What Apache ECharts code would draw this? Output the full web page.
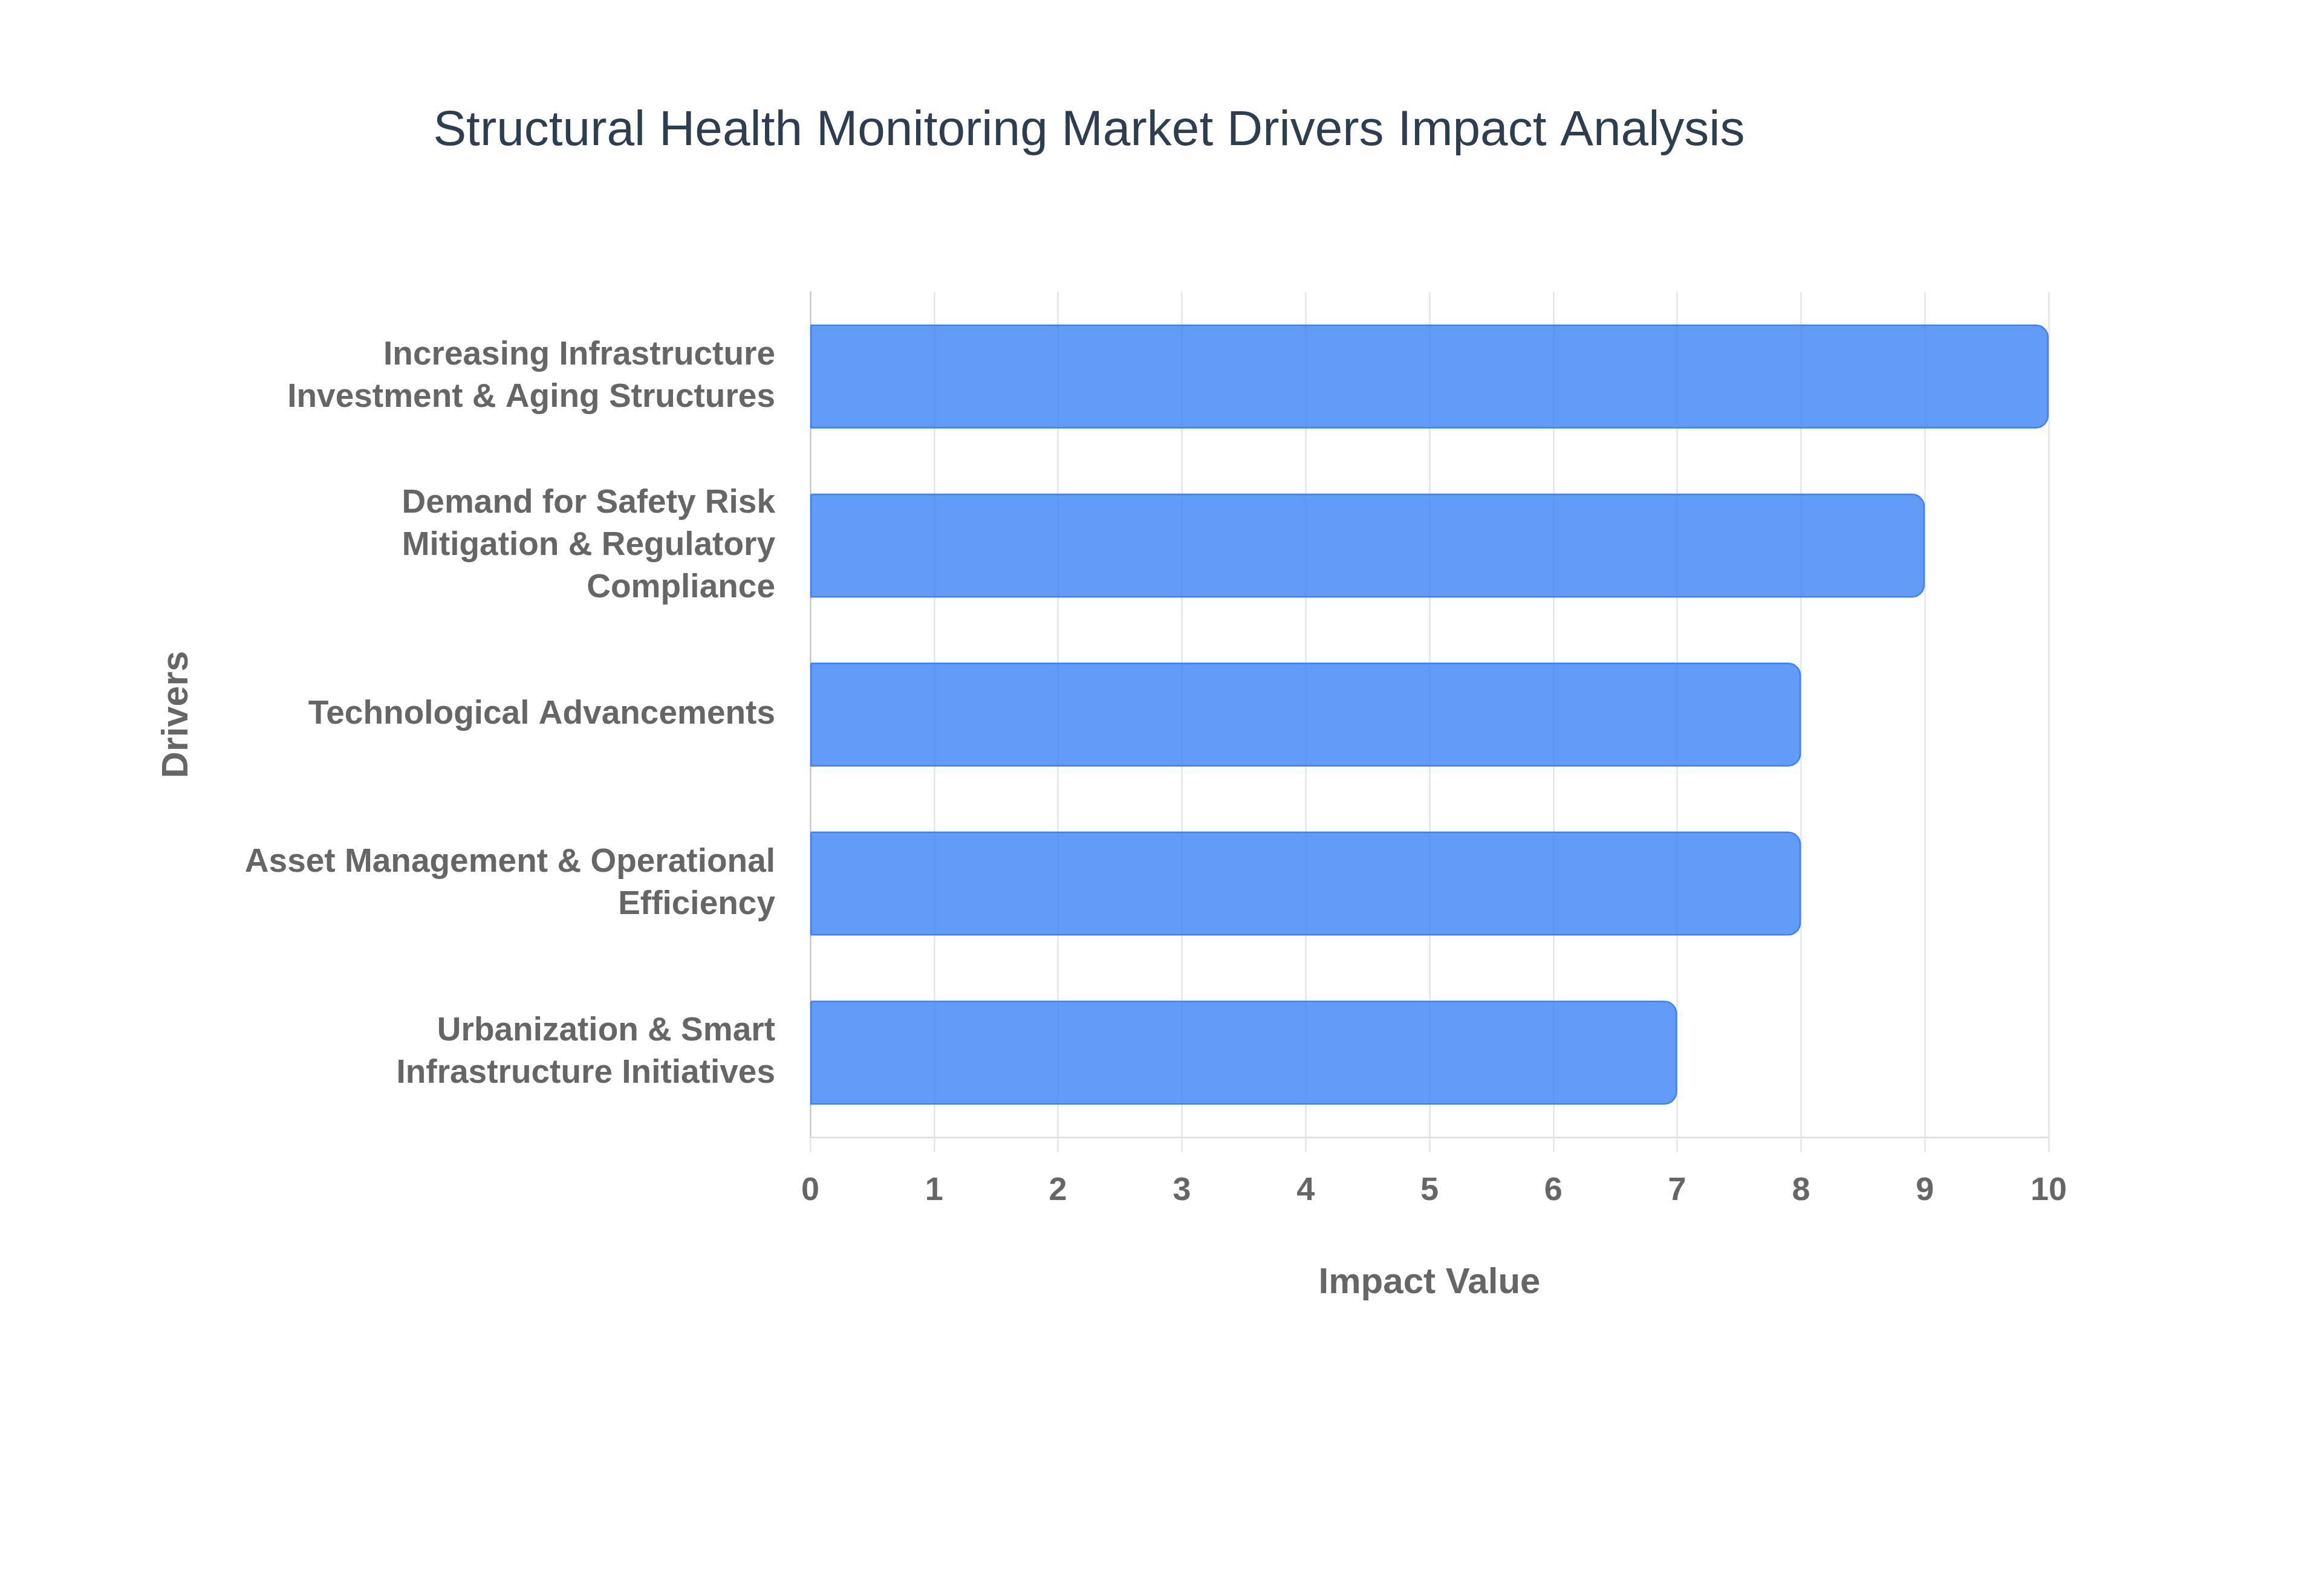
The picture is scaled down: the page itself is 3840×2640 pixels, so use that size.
<!DOCTYPE html>
<html>
<head>
<meta charset="utf-8">
<script src="https://cdn.jsdelivr.net/npm/echarts@6/dist/echarts.min.js"></script>
<style>
html,body{margin:0;padding:0;background:#fff;}
#chart{width:3840px;height:2640px;}
</style>
</head>
<body>
<div id="chart"></div>
<script>
const titleText = 'Structural Health Monitoring Market Drivers Impact Analysis';
const categories = [
  'Increasing Infrastructure\nInvestment & Aging Structures',
  'Demand for Safety Risk\nMitigation & Regulatory\nCompliance',
  'Technological Advancements',
  'Asset Management & Operational\nEfficiency',
  'Urbanization & Smart\nInfrastructure Initiatives'
];
const impactValues = [10, 9, 8, 8, 7];
const xAxisName = 'Impact Value';
const yAxisName = 'Drivers';

const chart = echarts.init(document.getElementById('chart'));
const labelFont = 'Liberation Sans, Arial, Helvetica, sans-serif';
chart.setOption({
  backgroundColor: '#ffffff',
  animation: false,
  title: {
    text: titleText,
    left: 1796,
    top: 171,
    textAlign: 'center',
    textStyle: {
      fontFamily: labelFont,
      fontSize: 82,
      fontWeight: 'normal',
      color: '#2c3e50'
    }
  },
  grid: {
    left: 1340,
    right: 452,
    top: 483,
    bottom: 759,
    containLabel: false
  },
  xAxis: {
    type: 'value',
    min: 0,
    max: 10,
    interval: 1,
    name: xAxisName,
    nameLocation: 'middle',
    nameGap: 211,
    nameTextStyle: {
      fontFamily: labelFont,
      fontSize: 60,
      fontWeight: 'bold',
      color: '#666666'
    },
    axisLine: { show: true, lineStyle: { color: '#dddddd', width: 2.5 } },
    axisTick: { show: true, length: 25, lineStyle: { color: '#e5e5e5', width: 2.5 } },
    splitLine: { show: true, lineStyle: { color: '#e5e5e5', width: 2.5 } },
    axisLabel: {
      margin: 62,
      fontFamily: labelFont,
      fontSize: 54,
      fontWeight: 'bold',
      color: '#666666'
    }
  },
  yAxis: {
    type: 'category',
    data: categories,
    inverse: true,
    name: yAxisName,
    nameLocation: 'middle',
    nameGap: 1016,
    nameRotate: 90,
    nameTextStyle: {
      fontFamily: labelFont,
      fontSize: 61,
      fontWeight: 'bold',
      color: '#666666'
    },
    axisLine: { show: true, lineStyle: { color: '#cccccc', width: 2.5 } },
    axisTick: { show: false },
    splitLine: { show: false },
    axisLabel: {
      margin: 58,
      fontFamily: labelFont,
      fontSize: 55,
      fontWeight: 'bold',
      lineHeight: 70,
      color: '#666666',
      align: 'right'
    }
  },
  series: [{
    type: 'bar',
    data: impactValues,
    barCategoryGap: '38.5%',
    itemStyle: {
      color: 'rgba(59,130,246,0.8)',
      borderColor: 'rgba(59,130,246,1)',
      borderWidth: 2.5,
      borderRadius: [0, 20, 20, 0]
    }
  }]
});
</script>
</body>
</html>
